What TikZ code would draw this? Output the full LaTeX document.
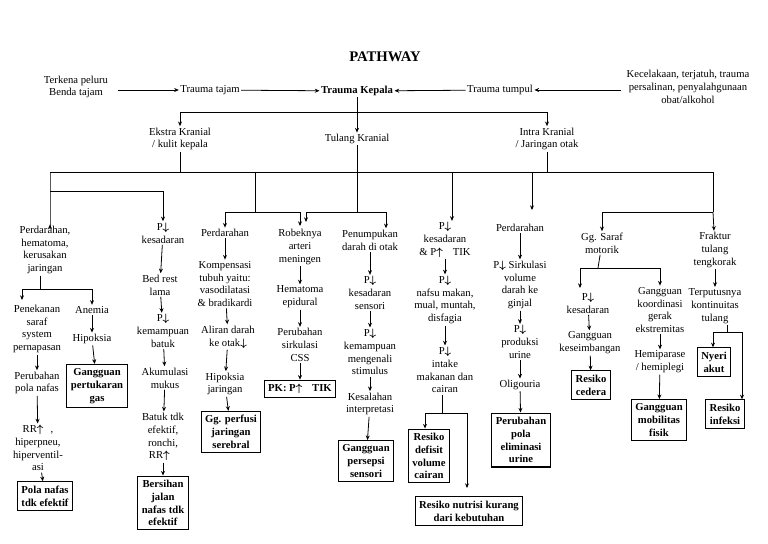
\documentclass[tikz,border=0pt]{standalone}
\usepackage{amsmath}
\usepackage{fontspec}
\setmainfont{Liberation Serif}
\usetikzlibrary{arrows.meta}
\newcommand{\turun}{\ensuremath{\boldsymbol{\downarrow}}}
\newcommand{\naik}{\ensuremath{\boldsymbol{\uparrow}}}
\tikzset{
  arr/.style={-{Stealth[length=3.5pt,width=3pt]},semithick},
  ln/.style={semithick},
  txt/.style={align=center,inner sep=1pt,font=\fontsize{8}{9.6}\selectfont},
  dx/.style={draw,thick,align=center,inner sep=3pt,font=\fontsize{8}{9.6}\selectfont\bfseries}
}
\begin{document}
\begin{tikzpicture}[x=0.75pt,y=-0.75pt]
\useasboundingbox (0,0) rectangle (768,543);
\node[font=\fontsize{11}{13}\selectfont\bfseries] (judul) at (385,57) {PATHWAY};

% penyebab
\node[txt] (peluru) at (76,87) {Terkena peluru\\Benda tajam};
\node[txt] (tajam) at (210,90) {Trauma tajam};
\node[txt,font=\fontsize{8}{9.6}\selectfont\bfseries] (kepala) at (357,91) {Trauma Kepala};
\node[txt] (tumpul) at (500,90) {Trauma tumpul};
\node[txt] (kecel) at (688,87) {Kecelakaan, terjatuh, trauma\\persalinan, penyalahgunaan\\obat/alkohol};
\draw[arr] (peluru.east|-tajam) ++(8,0) -- (tajam);
\draw[arr] (tajam) -- (kepala);
\draw[arr] (tumpul) -- (kepala);
\draw[arr] (kecel.west|-tumpul) ++(-4,0) -- (tumpul);

% tiga cabang
\node[txt] (ekstra) at (180,139) {Ekstra Kranial\\/ kulit kepala};
\node[txt] (tulang) at (357,139) {Tulang Kranial};
\node[txt] (intra) at (547,139) {Intra Kranial\\/ Jaringan otak};
\coordinate (b1) at (357,112);
\draw[ln] (kepala) -- (b1);
\draw[arr] (b1) -| (ekstra);
\draw[arr] (b1) -| (intra);
\draw[arr] (b1) -- (tulang);

% bar utama
\draw[ln] (50,172) -- (713,172);
\draw[ln] (ekstra) -- (180,172);
\draw[ln] (intra) -- (547,172);
\draw[ln] (tulang) -- (357,212);
\draw[ln] (255,172) -- (255,212);

% kolom A
\node[txt] (a0) at (45,250) {Perdarahan,\\hematoma,\\kerusakan\\jaringan};
\draw[arr] (50,172) -- (50,227) -- (a0.north-|50,0);
\node[txt] (a1) at (37,329) {Penekanan\\saraf\\system\\pernapasan};
\node[txt] (a2) at (37,383) {Perubahan\\pola nafas};
\node[txt] (a3) at (38,448) {RR\naik,\\hiperpneu,\\hiperventil-\\asi};
\node[dx] (a4) at (45,496) {Pola nafas\\tdk efektif};
\node[txt] (a5) at (92,310) {Anemia};
\node[txt] (a6) at (92,339) {Hipoksia};
\node[dx] (a7) at (97,386) {Gangguan\\pertukaran\\gas};
\coordinate (ca) at (40,289);
\draw[ln] (a0.south-|40,0) -- (ca);
\draw[arr] (ca) -| (22,300);
\draw[arr] (ca) -| (a5);
\draw[arr] (a1) -- (a2);
\draw[arr] (a2) -- (a3);
\draw[arr] (a3) -- (a4);
\draw[arr] (a5) -- (a6);
\draw[arr] (a6) -- (a7);

% kolom B
\node[txt] (p0) at (163,233) {P\turun\\kesadaran};
\node[txt] (p1) at (160,285) {Bed rest\\lama};
\node[txt] (p2) at (163,331) {P\turun\\kemampuan\\batuk};
\node[txt] (p3) at (165,378) {Akumulasi\\mukus};
\node[txt] (p4) at (163,437) {Batuk tdk\\efektif,\\ronchi,\\RR\naik};
\node[dx] (p5) at (163,503) {Bersihan\\jalan\\nafas tdk\\efektif};
\draw[arr] (50,191) -| (p0);
\draw[arr] (p0) -- (p1);
\draw[arr] (p1) -- (p2);
\draw[arr] (p2) -- (p3);
\draw[arr] (p3) -- (p4);
\draw[arr] (p4) -- (p5);

% kolom C dan D
\coordinate (cc) at (255,212);
\node[txt] (c0) at (225,233) {Perdarahan};
\node[txt] (c1) at (225,284) {Kompensasi\\tubuh yaitu:\\vasodilatasi\\\& bradikardi};
\node[txt] (c2) at (228,337) {Aliran darah\\ke otak\turun};
\node[txt] (c3) at (225,384) {Hipoksia\\jaringan};
\node[dx] (c4) at (231,432) {Gg. perfusi\\jaringan\\serebral};
\draw[arr] (cc) -| (c0);
\draw[arr] (cc) -| (300,226);
\draw[arr] (c0) -- (c1);
\draw[arr] (c1) -- (c2);
\draw[arr] (c2) -- (c3);
\draw[arr] (c3) -- (c4);
\node[txt] (d0) at (300,247) {Robeknya\\arteri\\meningen};
\node[txt] (d1) at (300,297) {Hematoma\\epidural};
\node[txt] (d2) at (300,345) {Perubahan\\sirkulasi\\CSS};
\node[dx] (d3) at (300,389) {PK: P\naik\ TIK};
\draw[arr] (d0) -- (d1);
\draw[arr] (d1) -- (d2);
\draw[arr] (d2) -- (d3);

% kolom E
\coordinate (ce) at (357,212);
\node[txt] (e0) at (370,240) {Penumpukan\\darah di otak};
\node[txt] (e1) at (370,293) {P\turun\\kesadaran\\sensori};
\node[txt] (e2) at (370,352) {P\turun\\kemampuan\\mengenali\\stimulus};
\node[txt] (e3) at (370,404) {Kesalahan\\interpretasi};
\node[dx] (e4) at (366,461) {Gangguan\\persepsi\\sensori};
\draw[arr] (ce) -| (306,222);
\draw[arr] (ce) -| (e0.north-|386,0);
\draw[arr] (e0) -- (e1);
\draw[arr] (e1) -- (e2);
\draw[arr] (e2) -- (e3);
\draw[arr] (e3) -- (e4);

% kolom F
\node[txt] (f0) at (445,240) {P\turun\\kesadaran\\\& P\naik\ TIK};
\node[txt] (f1) at (445,300) {P\turun\\nafsu makan,\\mual, muntah,\\disfagia};
\node[txt] (f2) at (445,370) {P\turun\\intake\\makanan dan\\cairan};
\node[dx] (f3) at (429,456) {Resiko\\defisit\\volume\\cairan};
\node[dx] (f4) at (469,511) {Resiko nutrisi kurang\\dari kebutuhan};
\draw[arr] (452,172) -- (f0.north-|452,0);
\draw[arr] (f0) -- (f1);
\draw[arr] (f1) -- (f2);
\coordinate (cf) at (442,413);
\draw[ln] (f2.south-|442,0) -- (cf);
\draw[arr] (cf) -| (f3.north-|425,0);
\draw[arr] (cf) -| (467,488);

% kolom G
\node[txt] (g0) at (520,228) {Perdarahan};
\node[txt] (g1) at (520,285) {P\turun\ Sirkulasi\\volume\\darah ke\\ginjal};
\node[txt] (g2) at (520,342) {P\turun\\produksi\\urine};
\node[txt] (g3) at (520,385) {Oligouria};
\node[dx] (g4) at (521,440) {Perubahan\\pola\\eliminasi\\urine};
\draw[arr] (532,172) -- (532,210);
\draw[arr] (g0) -- (g1);
\draw[arr] (g1) -- (g2);
\draw[arr] (g2) -- (g3);
\draw[arr] (g3) -- (g4);

% kolom H dan I
\coordinate (ch) at (713,212);
\draw[ln] (713,172) -- (ch);
\node[txt] (h0) at (602,243) {Gg. Saraf\\motorik};
\node[txt] (h1) at (588,303) {P\turun\\kesadaran};
\node[txt] (h2) at (590,343) {Gangguan\\keseimbangan};
\node[dx] (h3) at (591,385) {Resiko\\cedera};
\node[txt] (h4) at (660,310) {Gangguan\\koordinasi\\gerak\\ekstremitas};
\node[txt] (h5) at (660,362) {Hemiparase\\/ hemiplegi};
\node[dx] (h6) at (659,420) {Gangguan\\mobilitas\\fisik};
\draw[arr] (ch) -| (h0);
\coordinate (chh) at (598,268);
\draw[ln] (h0) -- (chh);
\draw[arr] (chh) -| (580,288);
\draw[arr] (chh) -| (h4);
\draw[arr] (h1) -- (h2);
\draw[arr] (h2) -- (h3);
\draw[arr] (h4) -- (h5);
\draw[arr] (h5) -- (h6);
\node[txt] (i0) at (715,250) {Fraktur\\tulang\\tengkorak};
\node[txt] (i1) at (715,306) {Terputusnya\\kontinuitas\\tulang};
\node[dx] (i2) at (714,362) {Nyeri\\akut};
\node[dx] (i3) at (725,414) {Resiko\\infeksi};
\draw[arr] (ch) -- (i0);
\draw[arr] (i0) -- (i1);
\coordinate (ci) at (727,332);
\draw[ln] (i1.south-|727,0) -- (ci);
\draw[arr] (ci) -| (i2.north-|713,0);
\draw[arr] (ci) -| (i3.north-|742,0);
\end{tikzpicture}
\end{document}
